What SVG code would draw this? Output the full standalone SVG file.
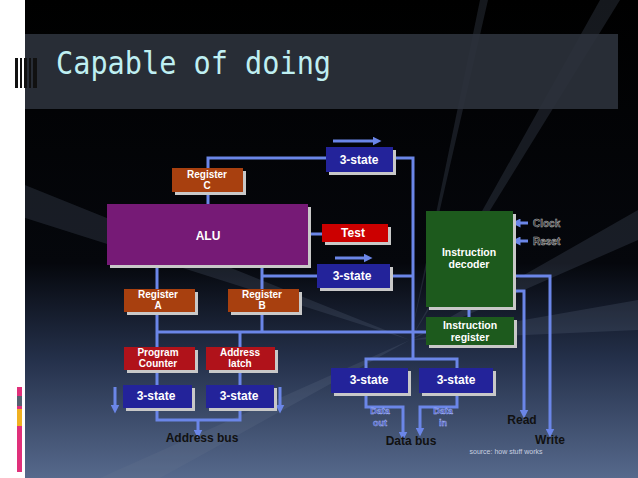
<svg xmlns="http://www.w3.org/2000/svg" width="638" height="478" viewBox="0 0 638 478">
<defs>
<linearGradient id="bg" x1="0" y1="0" x2="0" y2="1">
<stop offset="0" stop-color="#000"/><stop offset="0.55" stop-color="#05070c"/><stop offset="0.75" stop-color="#24304a"/><stop offset="1" stop-color="#56698c"/>
</linearGradient>
<marker id="ah" viewBox="0 0 10 10" refX="5" refY="5" markerWidth="3" markerHeight="3" orient="auto"><path d="M0,0 L10,5 L0,10 z" fill="#6b86e8"/></marker>
</defs>
<style>
.sh{fill:#c8c8c8}
.t{font-family:"Liberation Sans",Arial,sans-serif;font-weight:bold;fill:#fff;font-size:12px;text-anchor:middle}
.s{font-size:10px}
.m{font-size:10.5px}
.k{font-family:"Liberation Sans",Arial,sans-serif;font-weight:bold;fill:#111;font-size:12px;text-anchor:middle}
.w{stroke:#6b86e8;stroke-width:3;fill:none}
.a{stroke:#6b86e8;stroke-width:3;fill:none;marker-end:url(#ah)}
.ts{fill:#23239a}.rg{fill:#a8400f}.rd{fill:#b0121a}
.o{font-family:"Liberation Sans",Arial,sans-serif;font-weight:bold;font-size:9px;text-anchor:middle;fill:#3a4fc0;stroke:#b8c4ff;stroke-width:0.4}
</style>
<rect width="638" height="478" fill="url(#bg)"/>
<g opacity="0.2" fill="#6a7890">
<polygon points="410,340 638,210 638,240"/>
<polygon points="410,340 600,0 620,0"/>
<polygon points="410,340 0,175 0,210"/>
<polygon points="410,340 638,300 638,330"/>
<polygon points="410,340 480,0 488,0"/>
<polygon points="410,340 100,478 160,478"/>
</g>
<rect x="0" y="0" width="25" height="478" fill="#fff"/>
<rect x="17" y="387" width="5" height="85" fill="#e0307a"/>
<rect x="17" y="396" width="5" height="10" fill="#556070"/>
<rect x="17" y="409" width="5" height="17" fill="#f0b020"/>
<rect x="25" y="34" width="593" height="75" fill="#2c323c" opacity="0.9"/>
<g fill="#111"><rect x="15" y="58" width="3" height="30"/><rect x="20" y="58" width="2" height="30"/><rect x="24" y="58" width="3" height="30"/><rect x="29" y="58" width="2" height="30"/><rect x="33" y="58" width="4" height="30"/></g>
<text x="56" y="74" font-family="'DejaVu Sans Mono',monospace" font-size="32" fill="#bfeff2" textLength="275" lengthAdjust="spacingAndGlyphs">Capable of doing</text>

<g id="connectors">
<polyline class="w" points="326,158 208,158 208,168"/>
<polyline class="w" points="393,158 413,158 413,359"/>
<line class="w" x1="208" y1="192" x2="208" y2="204"/>
<line class="w" x1="308" y1="234" x2="322" y2="234"/>
<line class="w" x1="157" y1="265" x2="157" y2="289"/>
<line class="w" x1="262" y1="265" x2="262" y2="289"/>
<line class="w" x1="262" y1="276" x2="317" y2="276"/>
<line class="w" x1="390" y1="276" x2="413" y2="276"/>
<line class="w" x1="157" y1="312" x2="157" y2="347"/>
<line class="w" x1="262" y1="312" x2="262" y2="332"/>
<line class="w" x1="157" y1="332" x2="426" y2="332"/>
<line class="w" x1="240" y1="332" x2="240" y2="347"/>
<line class="w" x1="157" y1="370" x2="157" y2="385"/>
<line class="w" x1="240" y1="370" x2="240" y2="385"/>
<polyline class="w" points="157,408 157,420 240,420 240,408"/>
<line class="a" x1="198" y1="420" x2="198" y2="434"/>
<line class="a" x1="115" y1="387" x2="115" y2="409"/>
<line class="a" x1="280" y1="387" x2="280" y2="409"/>
<line class="a" x1="333" y1="141" x2="377" y2="141"/>
<line class="a" x1="335" y1="258" x2="368" y2="258"/>
<polyline class="w" points="366,368 366,359 457,359 457,368"/>
<polyline class="a" points="366,393 366,407 403,407 403,436"/>
<polyline class="a" points="457,393 457,407 420,407 420,432"/>
<line class="w" x1="469" y1="307" x2="469" y2="317"/>
<polyline class="a" points="513,291 524,291 524,414"/>
<polyline class="a" points="513,276 550,276 550,433"/>
<line class="a" x1="528" y1="223" x2="516" y2="223"/>
<line class="a" x1="528" y1="241" x2="516" y2="241"/>
</g>

<g id="ts_top"><rect class="sh" x="329" y="150" width="67" height="25"/><rect class="ts" x="326" y="147" width="67" height="25"/><text class="t" x="359" y="164">3-state</text></g>
<g id="regC"><rect class="sh" x="175" y="171" width="71" height="24"/><rect class="rg" x="172" y="168" width="71" height="24"/><text class="t s" x="207" y="178">Register</text><text class="t s" x="207" y="189">C</text></g>
<g id="alu"><rect class="sh" x="110" y="207" width="201" height="61"/><rect x="107" y="204" width="201" height="61" fill="#761a76"/><text class="t" x="208" y="240" font-size="14">ALU</text></g>
<g id="test"><rect class="sh" x="325" y="227" width="66" height="18"/><rect x="322" y="224" width="66" height="18" fill="#cc0000"/><text class="t" x="353" y="237">Test</text></g>
<g id="ts_mid"><rect class="sh" x="320" y="267" width="73" height="24"/><rect class="ts" x="317" y="264" width="73" height="24"/><text class="t" x="352" y="280">3-state</text></g>
<g id="regA"><rect class="sh" x="127" y="292" width="71" height="23"/><rect class="rg" x="124" y="289" width="71" height="23"/><text class="t s" x="158" y="298">Register</text><text class="t s" x="158" y="309">A</text></g>
<g id="regB"><rect class="sh" x="231" y="292" width="71" height="23"/><rect class="rg" x="228" y="289" width="71" height="23"/><text class="t s" x="262" y="298">Register</text><text class="t s" x="262" y="309">B</text></g>
<g id="pc"><rect class="sh" x="127" y="350" width="71" height="23"/><rect class="rd" x="124" y="347" width="71" height="23"/><text class="t s" x="158" y="356">Program</text><text class="t s" x="158" y="367">Counter</text></g>
<g id="al"><rect class="sh" x="209" y="350" width="69" height="23"/><rect class="rd" x="206" y="347" width="69" height="23"/><text class="t s" x="240" y="356">Address</text><text class="t s" x="240" y="367">latch</text></g>
<g id="ts_l1"><rect class="sh" x="126" y="388" width="69" height="23"/><rect class="ts" x="123" y="385" width="69" height="23"/><text class="t" x="156" y="400">3-state</text></g>
<g id="ts_l2"><rect class="sh" x="209" y="388" width="68" height="23"/><rect class="ts" x="206" y="385" width="68" height="23"/><text class="t" x="239" y="400">3-state</text></g>
<g id="ts_b1"><rect class="sh" x="334" y="371" width="77" height="25"/><rect class="ts" x="331" y="368" width="77" height="25"/><text class="t" x="369" y="384">3-state</text></g>
<g id="ts_b2"><rect class="sh" x="422" y="371" width="74" height="25"/><rect class="ts" x="419" y="368" width="74" height="25"/><text class="t" x="456" y="384">3-state</text></g>
<g id="dec"><rect class="sh" x="429" y="214" width="87" height="96"/><rect x="426" y="211" width="87" height="96" fill="#1d5a1d"/><text class="t m" x="469" y="256">Instruction</text><text class="t m" x="469" y="268">decoder</text></g>
<g id="ir"><rect class="sh" x="429" y="320" width="88" height="28"/><rect x="426" y="317" width="88" height="28" fill="#1d5a1d"/><text class="t m" x="470" y="329">Instruction</text><text class="t m" x="470" y="341">register</text></g>

<text class="k" x="202" y="442">Address bus</text>
<text class="k" x="411" y="445">Data bus</text>
<text class="k" x="522" y="424">Read</text>
<text class="k" x="550" y="444">Write</text>
<text class="o" x="380" y="414">Data</text><text class="o" x="380" y="426">out</text>
<text class="o" x="443" y="414">Data</text><text class="o" x="443" y="426">in</text>
<text x="533" y="227" font-family="Liberation Sans,sans-serif" font-weight="bold" font-size="10" fill="#222" stroke="#bbb" stroke-width="0.5">Clock</text>
<text x="533" y="245" font-family="Liberation Sans,sans-serif" font-weight="bold" font-size="10" fill="#222" stroke="#bbb" stroke-width="0.5">Reset</text>
<text x="506" y="454" font-family="Liberation Sans,sans-serif" font-size="7" fill="#c8d0e0" text-anchor="middle">source: how stuff works</text>
</svg>
